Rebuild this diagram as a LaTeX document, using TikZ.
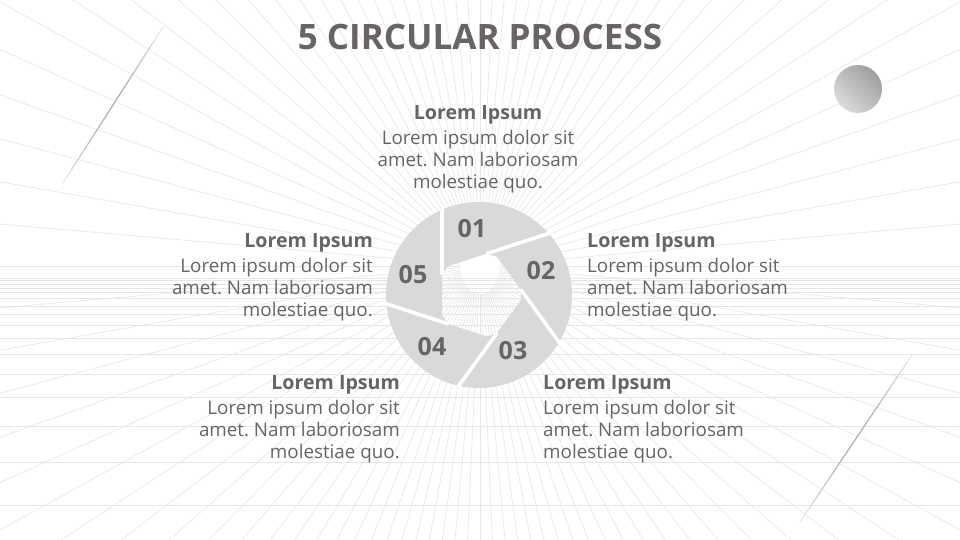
\documentclass[tikz,border=0pt]{standalone}
\usepackage{fontspec}
\setmainfont{Open Sans}
\newfontfamily\titlefont{Open Sans}
\usetikzlibrary{calc}
\definecolor{txt}{RGB}{104,100,100}
\definecolor{ringc}{RGB}{217,217,217}
\definecolor{bgline}{RGB}{230,230,230}
\tikzset{
  ray/.style={draw=bgline, line width=0.6pt},
  floorline/.style={draw=bgline, line width=0.7pt},
  gapline/.style={draw=white, line width=3.6pt},
  numtxt/.style={text=txt, font=\fontsize{25}{25}\selectfont\bfseries, inner sep=0pt},
  blockL/.style={text=txt, font=\fontsize{18.8}{22}\selectfont\frenchspacing, align=left, inner sep=0pt},
  blockR/.style={text=txt, font=\fontsize{18.8}{22}\selectfont\frenchspacing, align=right, inner sep=0pt},
  blockC/.style={text=txt, font=\fontsize{18.8}{22}\selectfont\frenchspacing, align=center, inner sep=0pt},
}
\newcommand{\blk}{{\fontsize{19.6}{22}\selectfont\bfseries Lorem Ipsum}\\[3pt] Lorem ipsum dolor sit\\ amet. Nam laboriosam\\ molestiae quo.}
\begin{document}
\begin{tikzpicture}[x=1pt,y=1pt]
\useasboundingbox (0,0) rectangle (960,-540);
\fill[white] (0,0) rectangle (960,-540);
\begin{scope}
\clip (0,0) rectangle (960,-540);
\coordinate (vp) at (480,-266);
% rays
\foreach \t in {0,3.6,...,356.5}{
  \draw[ray] ($(vp)+({0.72*cos(\t)*28},{sin(\t)*28})$) -- ++({0.72*cos(\t)*1400},{sin(\t)*1400});
}
% floor lines
\foreach \n in {0,...,15}{
  \pgfmathsetmacro\yy{-266-239/(1.22^\n)}
  \draw[floorline] (0,\yy) -- (960,\yy);
}
% streaks
\coordinate (s1a) at (163,-27);
\coordinate (s1b) at (63,-183);
\coordinate (s2a) at (912,-355);
\coordinate (s2b) at (800,-522);
\foreach \i in {0,...,23}{
  \pgfmathsetmacro\m{6+26*sin(180*(\i+0.5)/24)}
  \draw[line width=1.2pt, color=black!\m!white] ($(s1a)!{\i/24}!(s1b)$) -- ($(s1a)!{(\i+1)/24}!(s1b)$);
  \draw[line width=1.2pt, color=black!\m!white] ($(s2a)!{\i/24}!(s2b)$) -- ($(s2a)!{(\i+1)/24}!(s2b)$);
}
\end{scope}
% sphere
\coordinate (sph) at (858,-89);
\shade[top color=black!38, bottom color=black!14, shading angle=-45] (sph) circle[radius=24];
% title
\node[text=txt, font=\titlefont\fontsize{35}{35}\selectfont\bfseries, anchor=base, inner sep=0pt] (title) at (480,-50) {5 CIRCULAR PROCESS};
% ring
\coordinate (C) at (479,-295);
\fill[ringc, even odd rule] (C) circle[radius=93]
  ($(C)+(208.3:42)$) -- ($(C)+(151.7:42)$) arc[start angle=151.7, end angle=136.3, radius=42]
  -- ($(C)+(79.7:42)$) arc[start angle=79.7, end angle=64.3, radius=42]
  -- ($(C)+(7.7:42)$) arc[start angle=7.7, end angle=-7.7, radius=42]
  -- ($(C)+(-64.3:42)$) arc[start angle=-64.3, end angle=-79.7, radius=42]
  -- ($(C)+(-136.3:42)$) arc[start angle=-136.3, end angle=-151.7, radius=42] -- cycle;
\foreach \a in {180,108,36,-36,-108}{
  \draw[gapline] ($(C)+(\a:37)+(\a-90:19.9)$) -- ($(C)+(\a:37)+(\a-90:86.5)$);
}
\node[numtxt] (n1) at (472,-229) {01};
\node[numtxt] (n2) at (541,-271) {02};
\node[numtxt] (n3) at (513,-351) {03};
\node[numtxt] (n4) at (432,-347) {04};
\node[numtxt] (n5) at (413,-275) {05};
% text blocks
\node[blockC, anchor=north] (t1) at (478,-105) {\blk};
\node[blockL, anchor=north west] (t2) at (587,-233) {\blk};
\node[blockR, anchor=north east] (t5) at (373,-233) {\blk};
\node[blockL, anchor=north west] (t3) at (543,-375) {\blk};
\node[blockR, anchor=north east] (t4) at (400,-375) {\blk};
\end{tikzpicture}
\end{document}
